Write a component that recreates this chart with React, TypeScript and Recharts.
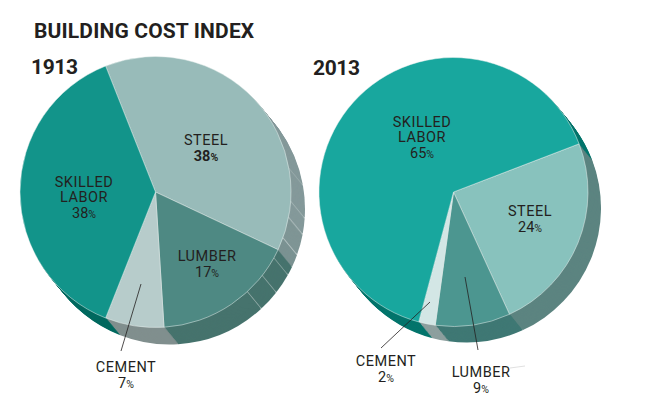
import React from "react";
import { PieChart, Pie, Cell } from "recharts";

const categories = ["STEEL", "LUMBER", "CEMENT", "SKILLED LABOR"];
const values1913 = [38, 17, 7, 38];
const values2013 = [24, 9, 2, 65];
const colors1913 = ["#98bbb9", "#4e8983", "#b7cccb", "#12948a"];
const colors2013 = ["#88c2bd", "#4c9690", "#d3e6e5", "#18a79e"];

// Side wall of the 1913 pie is cut into panels by hairline seams
const wall1913 = [28.1, 0.1, 3.8, 0.1, 1.8, 0.1, 2.4, 0.1, 1.5, 1, 0.1, 2.4, 0.1, 2.5, 0.1, 10.8, 7, 38];
const wallColors1913 = [
  "#84999a", "#b9c6c6", "#84999a", "#b9c6c6", "#84999a", "#b9c6c6", "#7f9595", "#b9c6c6", "#7b9292",
  "#46736d", "#8aa5a1", "#46736d", "#8aa5a1", "#46736d", "#8aa5a1", "#46736d", "#808f8e", "#00695f",
];
const wall2013 = [24, 9, 2, 65];
const wallColors2013 = ["#5c8480", "#3f7874", "#8d9f9e", "#04756c"];
// Extrusion layers, back to front
const depthSteps = [17, 16, 15, 14, 13, 12, 11, 10, 9, 8, 7, 6, 5, 4, 3, 2, 1];

const toRows = (vals: number[]) => vals.map((value, i) => ({ name: String(i), value }));
const font = "Roboto, sans-serif";
const ink = "#231f20";

function Label({ x, y, lines, pct, bold }: { x: number; y: number; lines: string[]; pct: number; bold?: boolean }) {
  return (
    <text x={x} y={y} fontFamily={font} fill={ink} textAnchor="middle" fontSize={14.5}>
      {lines.map((l, i) => (
        <tspan key={l} x={x} y={y + i * 15} letterSpacing={0.5}>{l}</tspan>
      ))}
      <tspan x={x} y={y + lines.length * 15.5} fontWeight={bold ? 700 : 400}>{pct}</tspan>
      <tspan fontSize={10.5} fontWeight={bold ? 700 : 400}>%</tspan>
    </text>
  );
}

export default function App() {
  return (
    <div style={{ position: "absolute", left: 0, top: 0, width: 659, height: 415 }}>
      <PieChart width={659} height={415} margin={{ top: 0, right: 0, bottom: 0, left: 0 }}>
        {depthSteps.map((s) => (
          <Pie key={"a" + s} data={toRows(wall1913)} dataKey="value" cx={155.5 + (s * 14) / 17} cy={192 + s} innerRadius={0} outerRadius={135.5} startAngle={111.6} endAngle={-248.4} stroke="none" isAnimationActive={false}>
            {wall1913.map((_, i) => <Cell key={i} fill={wallColors1913[i]} />)}
          </Pie>
        ))}
        <Pie data={toRows(values1913)} nameKey="name" dataKey="value" cx={155.5} cy={192} innerRadius={0} outerRadius={135.5} startAngle={111.6} endAngle={-248.4} stroke="#e8f0ef" strokeWidth={0.5} isAnimationActive={false}>
          {categories.map((c, i) => <Cell key={c} fill={colors1913[i]} />)}
        </Pie>
        {depthSteps.map((s) => (
          <Pie key={"b" + s} data={toRows(wall2013)} dataKey="value" cx={453.5 + (s * 13) / 17} cy={192 + (s * 16) / 17} innerRadius={0} outerRadius={134.5} startAngle={21} endAngle={-339} stroke="none" isAnimationActive={false}>
            {wall2013.map((_, i) => <Cell key={i} fill={wallColors2013[i]} />)}
          </Pie>
        ))}
        <Pie data={toRows(values2013)} nameKey="name" dataKey="value" cx={453.5} cy={192} innerRadius={0} outerRadius={134.5} startAngle={21} endAngle={-339} stroke="#e8f0ef" strokeWidth={0.5} isAnimationActive={false}>
          {categories.map((c, i) => <Cell key={c} fill={colors2013[i]} />)}
        </Pie>
      </PieChart>

      <svg width={659} height={415} style={{ position: "absolute", left: 0, top: 0, pointerEvents: "none" }}>
        <text x={34} y={38} fontFamily={font} fontSize={21} fontWeight={700} fill={ink} letterSpacing={0.15}>BUILDING COST INDEX</text>
        <text x={31} y={74} fontFamily={font} fontSize={21} fontWeight={700} fill={ink} letterSpacing={-0.4}>1913</text>
        <text x={313} y={75} fontFamily={font} fontSize={21} fontWeight={700} fill={ink} letterSpacing={-0.4}>2013</text>

        <line x1={141} y1={284} x2={121} y2={351} stroke={ink} strokeWidth={0.8} />
        <line x1={430} y1={302} x2={381} y2={348} stroke={ink} strokeWidth={0.8} />
        <line x1={465} y1={277} x2={478} y2={350} stroke={ink} strokeWidth={0.8} />
        <line x1={510} y1={368} x2={525} y2={366} stroke="#d8d8d8" strokeWidth={0.8} />

        <Label x={206} y={145} lines={["STEEL"]} pct={values1913[0]} bold />
        <Label x={207} y={261} lines={["LUMBER"]} pct={values1913[1]} />
        <Label x={126} y={372} lines={["CEMENT"]} pct={values1913[2]} />
        <Label x={84} y={187} lines={["SKILLED", "LABOR"]} pct={values1913[3]} />
        <Label x={530} y={216} lines={["STEEL"]} pct={values2013[0]} />
        <Label x={481} y={377} lines={["LUMBER"]} pct={values2013[1]} />
        <Label x={386} y={366} lines={["CEMENT"]} pct={values2013[2]} />
        <Label x={422} y={127} lines={["SKILLED", "LABOR"]} pct={values2013[3]} />
      </svg>
    </div>
  );
}
